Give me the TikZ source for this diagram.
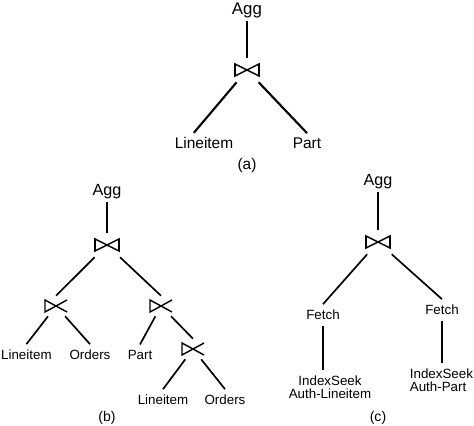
\documentclass[tikz,border=0pt]{standalone}
\usepackage{fontspec}
\setmainfont{Liberation Sans}
\usetikzlibrary{positioning}

\begin{document}
\begin{tikzpicture}[
                x=0.25mm, y=-0.25mm,
                on grid,
                agg/.style={inner sep=2pt, font=\fontsize{12}{14}\selectfont},
                leaf/.style={inner sep=4pt, font=\fontsize{9.5}{9.5}\selectfont},
                bigleaf/.style={inner sep=3pt, font=\fontsize{11}{13}\selectfont},
                caption/.style={inner sep=0pt, font=\fontsize{10}{12}\selectfont},
                joinbox/.style={minimum width=7.5mm, minimum height=6mm, inner sep=0pt,
                    path picture={\draw[line width=1.1pt]
                        (path picture bounding box.center) ++(-12,-6) -- ++(0,12) -- ++(24,-12) -- ++(0,12) -- cycle;}},
                semibox/.style={minimum width=6.5mm, minimum height=5mm, inner sep=0pt,
                    path picture={\draw[line width=1pt]
                        (path picture bounding box.center) ++(11,-6) -- ++(-22,12) -- ++(0,-12) -- ++(22,12);}},
                edgeA/.style={line width=1.5pt},
                edgeB/.style={line width=1.2pt}
            ]
                \useasboundingbox (0,0) rectangle (474,426);

                % (a): one join
                \node[agg] (aggA) at (247,10) {Agg};
                \node[joinbox, below=15mm of aggA] (joinA) {};
                \node[bigleaf, below left=18.25mm and 10.75mm of joinA] (lineA) {Lineitem};
                \node[bigleaf, below right=18.25mm and 15mm of joinA] (partA) {Part};
                \node[caption, font=\fontsize{11}{13}\selectfont, below=23.75mm of joinA] (capA) {(a)};

                \draw[edgeA] (aggA) -- (joinA);
                \draw[edgeA] (joinA) -- (lineA.135);
                \draw[edgeA] (joinA) -- (partA.north);

                % (b): join of semijoins
                \node[agg, font=\fontsize{11.5}{13}\selectfont] (aggB) at (107,192) {Agg};
                \node[joinbox, below=13.25mm of aggB] (joinB) {};
                \node[semibox, below left=15.25mm and 12.75mm of joinB] (semiL) {};
                \node[semibox, below right=15.25mm and 13.5mm of joinB] (semiR) {};
                \node[leaf, below left=12.25mm and 7.4mm of semiL] (lineB) {Lineitem};
                \node[leaf, below right=12.25mm and 8.5mm of semiL] (ordB) {Orders};
                \node[leaf, below left=12.25mm and 5.25mm of semiR] (partB) {Part};
                \node[semibox, below right=10.75mm and 8mm of semiR] (semiRR) {};
                \node[leaf, below left=12.75mm and 7.5mm of semiRR] (lineBB) {Lineitem};
                \node[leaf, below right=12.75mm and 8mm of semiRR] (ordBB) {Orders};
                \node[caption, below=43.25mm of joinB] (capB) {(b)};

                \draw[edgeB] (aggB) -- (joinB);
                \draw[edgeB] (joinB) -- (semiL.north);
                \draw[edgeB] (joinB) -- (semiR.north);
                \draw[edgeB] (semiL) -- (lineB.north);
                \draw[edgeB] (semiL) -- (ordB.north);
                \draw[edgeB] (semiR) -- (partB.north);
                \draw[edgeB] (semiR) -- (semiRR.north);
                \draw[edgeB] (semiRR) -- (lineBB.north);
                \draw[edgeB] (semiRR) -- (ordBB.north);

                % (c): join over fetches
                \node[agg, font=\fontsize{11.5}{13}\selectfont] (aggC) at (378,182) {Agg};
                \node[joinbox, below=15mm of aggC] (joinC) {};
                \node[leaf, below left=18.25mm and 13.75mm of joinC] (fetchL) {Fetch};
                \node[leaf, below right=17mm and 16mm of joinC] (fetchR) {Fetch};
                \node[leaf, align=center, below right=18mm and 1.75mm of fetchL] (seekL) {IndexSeek\\Auth-Lineitem};
                \node[leaf, align=left, anchor=west] (seekR) at (404,380) {IndexSeek\\Auth-Part};
                \node[caption, below=44mm of joinC] (capC) {(c)};

                \draw[edgeB] (aggC) -- (joinC);
                \draw[edgeB] (joinC) -- (fetchL.north);
                \draw[edgeB] (joinC) -- (fetchR.north);
                \draw[edgeB] (fetchL) -- (fetchL |- seekL.north);
                \draw[edgeB] (fetchR) -- (fetchR |- seekR.north);
            \end{tikzpicture}
\end{document}
